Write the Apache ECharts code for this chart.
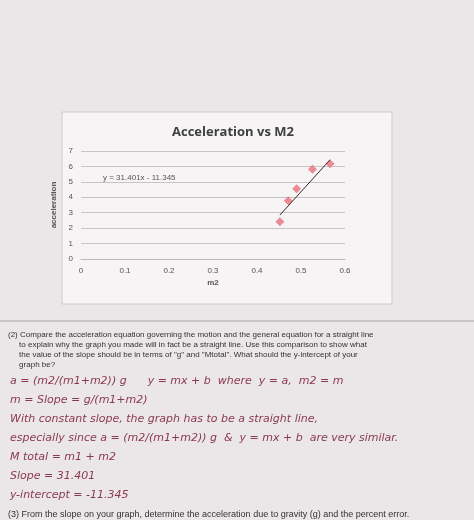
<!DOCTYPE html>
<html><head><meta charset="utf-8">
<script src="https://cdn.jsdelivr.net/npm/echarts@6/dist/echarts.min.js"></script>
<style>html,body{margin:0;padding:0;background:#e9e4e6;}#c{width:474px;height:520px;}</style>
</head><body><div id="c"></div>
<script>
const m2 = [0.452, 0.471, 0.490, 0.526, 0.566];
const accel = [2.41, 3.77, 4.55, 5.82, 6.18];
const slope = 31.401, intercept = -11.345;
const trendX = [0.452, 0.566];
const xTicks = [0, 0.1, 0.2, 0.3, 0.4, 0.5, 0.6];
const chart = echarts.init(document.getElementById('c'));
chart.setOption({
  backgroundColor: '#ebe6e8',
  animation: false,
  graphic: [
    {type:'rect', shape:{x:62,y:112,width:330,height:192}, style:{fill:'#f6f4f5', stroke:'#cfcacc'}, z:-10},
    {type:'text', left:103, top:174, style:{text:'y = 31.401x - 11.345', font:'8px Liberation Sans', fill:'#555'}},
    {type:'rect', shape:{x:0,y:320,width:474,height:2}, style:{fill:'#c9c4c6'}},
    {type:'text', left:8, top:330, style:{text:'(2) Compare the acceleration equation governing the motion and the general equation for a straight line\n     to explain why the graph you made will in fact be a straight line. Use this comparison to show what\n     the value of the slope should be in terms of "g" and "Mtotal". What should the y-intercept of your\n     graph be?', font:'8px Liberation Sans', fill:'#333', lineHeight:10}},
    {type:'text', left:10, top:372, style:{text:'a = (m2/(m1+m2)) g      y = mx + b  where  y = a,  m2 = m\nm = Slope = g/(m1+m2)\nWith constant slope, the graph has to be a straight line,\nespecially since a = (m2/(m1+m2)) g  &  y = mx + b  are very similar.\nM total = m1 + m2\nSlope = 31.401\ny-intercept = -11.345', font:'italic 11px DejaVu Sans', fill:'#8a3a4e', lineHeight:19}},
    {type:'text', left:8, top:510, style:{text:'(3) From the slope on your graph, determine the acceleration due to gravity (g) and the percent error.', font:'9px Liberation Sans', fill:'#333'}}
  ],
  title: {text:'Acceleration vs M2', left:228, top:121, textAlign:'center', textStyle:{fontSize:13, fontWeight:'bold', color:'#404040', fontFamily:'Open Sans'}},
  grid: {left:81, right:129, top:151, bottom:261},
  xAxis: {type:'value', min:0, max:0.6, interval:0.1, name:'m2', nameLocation:'middle', nameGap:20,
    nameTextStyle:{fontSize:8, fontWeight:'bold', color:'#555'},
    axisLabel:{fontSize:8, color:'#555', formatter:v=>xTicks.includes(+v.toFixed(1))? String(+v.toFixed(1)) : ''},
    axisLine:{lineStyle:{color:'#bbb'}}, axisTick:{show:false}, splitLine:{show:false}},
  yAxis: {type:'value', min:0, max:7, interval:1, name:'acceleration', nameLocation:'middle', nameGap:16, nameRotate:90,
    nameTextStyle:{fontSize:8, fontWeight:'bold', color:'#555'},
    axisLabel:{fontSize:8, color:'#555'}, axisLine:{show:false}, axisTick:{show:false},
    splitLine:{lineStyle:{color:'#c8c4c6'}}},
  series: [
    {type:'scatter', data:m2.map((x,i)=>[x,accel[i]]), symbol:'diamond', symbolSize:9, itemStyle:{color:'#e8717e'}},
    {type:'line', data:trendX.map(x=>[x, slope*x+intercept]), symbol:'none', lineStyle:{color:'#3a2a2a', width:1}}
  ]
});
</script></body></html>
